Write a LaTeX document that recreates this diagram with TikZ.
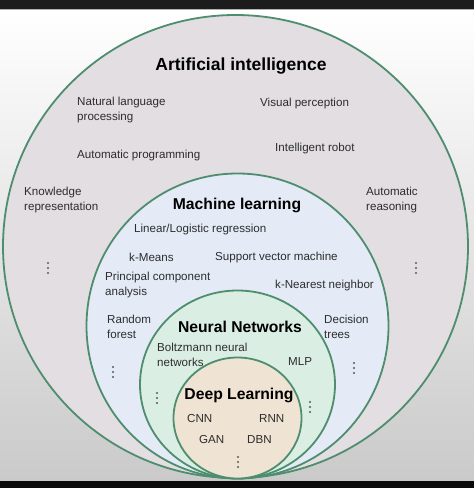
\documentclass[tikz,border=0pt]{standalone}
\usepackage{fontspec}
\setmainfont{Liberation Sans}
\definecolor{bgbottom}{RGB}{202,202,202}
\definecolor{topdark}{RGB}{28,28,28}
\definecolor{botdark}{RGB}{10,10,10}
\definecolor{ringcol}{RGB}{78,142,110}
\definecolor{aifill}{RGB}{226,222,226}
\definecolor{mlfill}{RGB}{228,235,246}
\definecolor{nnfill}{RGB}{218,238,228}
\definecolor{dlfill}{RGB}{239,227,211}
\definecolor{txt}{RGB}{45,45,45}
\definecolor{dotcol}{RGB}{90,90,90}
\tikzset{
  ring/.style={draw=ringcol, line width=1.8pt},
  item/.style={inner sep=0pt, anchor=west, align=left, text=txt,
    font=\fontsize{11.6}{14.5}\selectfont},
  bigtitle/.style={inner sep=0pt, font=\fontsize{17.5}{20}\selectfont\bfseries, text=black},
  subtitle/.style={inner sep=0pt, font=\fontsize{15.7}{18}\selectfont\bfseries, text=black},
  dotmark/.style={fill=dotcol}
}
\newcommand{\mydots}[2]{%
  \fill[dotmark] (#1,#2-5) circle [radius=1.2];
  \fill[dotmark] (#1,#2) circle [radius=1.2];
  \fill[dotmark] (#1,#2+5) circle [radius=1.2];}
\begin{document}
\begin{tikzpicture}[x=1pt,y=-1pt]
\useasboundingbox (0,0) rectangle (474,488);
\shade[top color=white, bottom color=bgbottom] (0,9) rectangle (474,481);
\fill[topdark] (0,0) rectangle (474,8.5);
\fill[gray!60] (0,8.5) rectangle (474,9.5);
\fill[botdark] (0,481) rectangle (474,488);
% circles
\draw[ring, fill=aifill] (235.5,246.5) ellipse [x radius=232.5, y radius=231.5];
\draw[ring, fill=mlfill] (237.5,326) ellipse [x radius=151, y radius=152.5];
\draw[ring, fill=nnfill] (237.5,384.5) ellipse [x radius=97.5, y radius=94];
\draw[ring, fill=dlfill] (237.5,418) ellipse [x radius=64, y radius=60.5];
% AI
\node[bigtitle] (ai) at (241,66) {Artificial intelligence};
\node[item] (nlp) at (77,110) {Natural language\\processing};
\node[item] (vis) at (260,103) {Visual perception};
\node[item] (aprog) at (77,155) {Automatic programming};
\node[item] (robot) at (275,148) {Intelligent robot};
\node[item] (know) at (24,200) {Knowledge\\representation};
\node[item] (reas) at (366,200) {Automatic\\reasoning};
\mydots{48}{268}
\mydots{416}{268}
% ML
\node[subtitle] (ml) at (237,205) {Machine learning};
\node[item] (lin) at (134,229) {Linear/Logistic regression};
\node[item] (km) at (129,257) {k-Means};
\node[item] (svm) at (215,257) {Support vector machine};
\node[item] (pca) at (105,285) {Principal component\\analysis};
\node[item] (knn) at (275,285) {k-Nearest neighbor};
\node[item] (rf) at (107,327) {Random\\forest};
\node[item] (dt) at (324,327) {Decision\\trees};
\mydots{113}{372}
\mydots{354}{368}
% NN
\node[subtitle] (nn) at (240,327) {Neural Networks};
\node[item] (bnn) at (157,355) {Boltzmann neural\\networks};
\node[item] (mlp) at (288,362) {MLP};
\mydots{157}{398}
\mydots{310}{407}
% DL
\node[subtitle] (dl) at (239,395) {Deep Learning};
\node[item] (cnn) at (187,419) {CNN};
\node[item] (rnn) at (259,419) {RNN};
\node[item] (gan) at (199,440) {GAN};
\node[item] (dbn) at (247,440) {DBN};
\mydots{238}{462}
\end{tikzpicture}
\end{document}
